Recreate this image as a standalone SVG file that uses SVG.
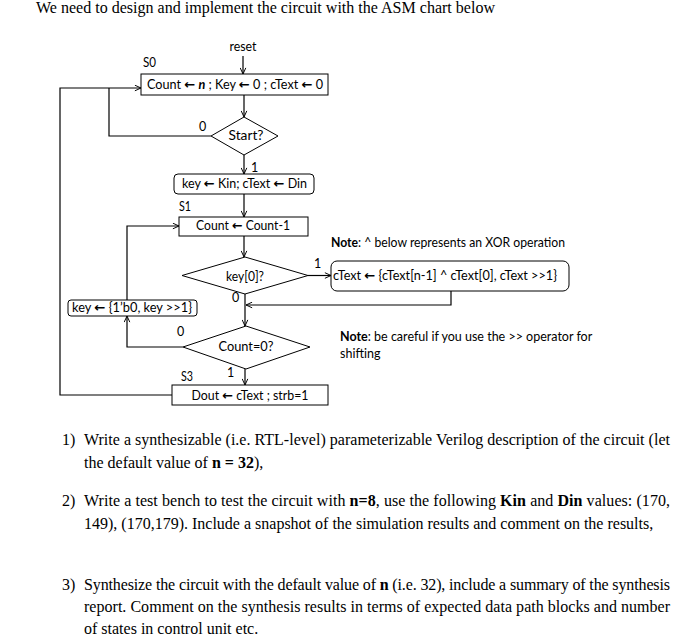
<svg xmlns="http://www.w3.org/2000/svg" width="685" height="640" viewBox="0 0 685 640">
<defs>
<marker id="ah" viewBox="0 0 8 8" refX="7.5" refY="4" markerWidth="7" markerHeight="7" markerUnits="userSpaceOnUse" orient="auto">
<path d="M0.5,0.8 L7.5,4 L0.5,7.2" fill="none" stroke="#000" stroke-width="1.1"/>
</marker>
<style>
.d{font-family:Lato,"Liberation Sans",Arial,sans-serif;font-size:12.5px;fill:#000}
.s{font-family:"Liberation Serif","Times New Roman",serif;font-size:16px;fill:#000}
.la{font-family:"DejaVu Sans",sans-serif;font-size:13px;font-weight:bold}
.box{fill:#fff;stroke:#000;stroke-width:1}
.ln{fill:none;stroke:#000;stroke-width:1.2}
.ar{fill:none;stroke:#000;stroke-width:1.2;marker-end:url(#ah)}
.b{font-weight:bold}
</style>
</defs>
<rect width="685" height="640" fill="#fff"/>
<text class="s" x="36" y="13" textLength="459" lengthAdjust="spacingAndGlyphs">We need to design and implement the circuit with the ASM chart below</text>

<g id="connectors">
<path class="ar" d="M243,56 L243,74"/>
<path class="ar" d="M244,95 L244,117"/>
<path class="ln" d="M211,136 L109,136 L109,88"/>
<path class="ar" d="M172,395 L60,395 L60,88 L141,88"/>
<path class="ar" d="M244,155 L244,174"/>
<path class="ar" d="M244,194 L244,217"/>
<path class="ar" d="M244,236 L244,257"/>
<path class="ar" d="M308,275.5 L331,275.5"/>
<path class="ar" d="M245,294 L245,326"/>
<path class="ar" d="M451,291 L451,305 L246,305"/>
<path class="ar" d="M183,347 L127,347 L127,316"/>
<path class="ar" d="M127,300 L127,226 L179,226"/>
<path class="ar" d="M245,369 L245,385"/>
</g>

<g id="reset"><text class="d" x="243" y="51" text-anchor="middle" textLength="27" lengthAdjust="spacingAndGlyphs">reset</text></g>

<g id="S0">
<text class="d" x="143" y="67" textLength="13" lengthAdjust="spacingAndGlyphs">S0</text>
<rect class="box" x="141" y="74" width="187" height="21"/>
<text class="d" x="147" y="89" textLength="176" lengthAdjust="spacingAndGlyphs">Count <tspan class="la">←</tspan> <tspan class="b" font-style="italic">n</tspan> ; Key <tspan class="la">←</tspan> 0 ; cText <tspan class="la">←</tspan> 0</text>
</g>

<g id="start">
<polygon class="box" points="244,117 278,136 244,155 211,136"/>
<text class="d" x="246" y="140" text-anchor="middle" textLength="35" lengthAdjust="spacingAndGlyphs">Start?</text>
<text class="d" x="199" y="131">0</text>
<text class="d" x="251" y="172">1</text>
</g>

<g id="load">
<rect class="box" x="174" y="174" width="140" height="20" rx="4"/>
<text class="d" x="182" y="188" textLength="125" lengthAdjust="spacingAndGlyphs">key <tspan class="la">←</tspan> Kin; cText <tspan class="la">←</tspan> Din</text>
</g>

<g id="S1">
<text class="d" x="179" y="211" textLength="12" lengthAdjust="spacingAndGlyphs">S1</text>
<rect class="box" x="179" y="217" width="129" height="19"/>
<text class="d" x="196" y="230" textLength="94" lengthAdjust="spacingAndGlyphs">Count <tspan class="la">←</tspan> Count-1</text>
</g>

<g id="key0">
<polygon class="box" points="245,257 308,275.5 245,294 182,275.5"/>
<text class="d" x="245" y="281" text-anchor="middle" textLength="38" lengthAdjust="spacingAndGlyphs">key[0]?</text>
<text class="d" x="314" y="268">1</text>
<text class="d" x="232" y="302">0</text>
</g>

<g id="note1">
<text class="d" x="331" y="247" textLength="234" lengthAdjust="spacingAndGlyphs"><tspan class="b">Note</tspan>: ^ below represents an XOR operation</text>
</g>

<g id="ctext">
<rect class="box" x="331" y="261" width="238" height="30" rx="6"/>
<text class="d" x="333" y="280" textLength="224" lengthAdjust="spacingAndGlyphs">cText <tspan class="la">←</tspan> {cText[n-1] ^ cText[0], cText &gt;&gt;1}</text>
</g>

<g id="shiftkey">
<rect class="box" x="68" y="300" width="129" height="16" rx="3"/>
<text class="d" x="72" y="312" textLength="120" lengthAdjust="spacingAndGlyphs">key <tspan class="la">←</tspan> {1’b0, key &gt;&gt;1}</text>
</g>

<g id="count0">
<polygon class="box" points="246,326 310,347 246,369 183,347"/>
<text class="d" x="246" y="351" text-anchor="middle" textLength="55" lengthAdjust="spacingAndGlyphs">Count=0?</text>
<text class="d" x="177" y="336">0</text>
<text class="d" x="227" y="377">1</text>
</g>

<g id="note2">
<text class="d" x="340" y="341"><tspan class="b">Note</tspan>: be careful if you use the &gt;&gt; operator for</text>
<text class="d" x="340" y="358">shifting</text>
</g>

<g id="S3">
<text class="d" x="181" y="381" textLength="12" lengthAdjust="spacingAndGlyphs">S3</text>
<rect class="box" x="172" y="385" width="156" height="20"/>
<text class="d" x="250" y="400" text-anchor="middle" textLength="117" lengthAdjust="spacingAndGlyphs">Dout <tspan class="la">←</tspan> cText ; strb=1</text>
</g>

<g id="tasks">
<text class="s" x="62" y="445">1)</text>
<text class="s" x="84" y="445" textLength="586" lengthAdjust="spacing">Write a synthesizable (i.e. RTL-level) parameterizable Verilog description of the circuit (let</text>
<text class="s" x="84" y="468">the default value of <tspan class="b">n = 32</tspan>),</text>
<text class="s" x="62" y="506">2)</text>
<text class="s" x="84" y="506" textLength="586" lengthAdjust="spacing">Write a test bench to test the circuit with <tspan class="b">n=8</tspan>, use the following <tspan class="b">Kin</tspan> and <tspan class="b">Din</tspan> values: (170,</text>
<text class="s" x="84" y="529">149), (170,179). Include a snapshot of the simulation results and comment on the results,</text>
<text class="s" x="62" y="590">3)</text>
<text class="s" x="84" y="590" textLength="586" lengthAdjust="spacing">Synthesize the circuit with the default value of <tspan class="b">n</tspan> (i.e. 32), include a summary of the synthesis</text>
<text class="s" x="84" y="612" textLength="586" lengthAdjust="spacing">report. Comment on the synthesis results in terms of expected data path blocks and number</text>
<text class="s" x="84" y="634">of states in control unit etc.</text>
</g>
</svg>
